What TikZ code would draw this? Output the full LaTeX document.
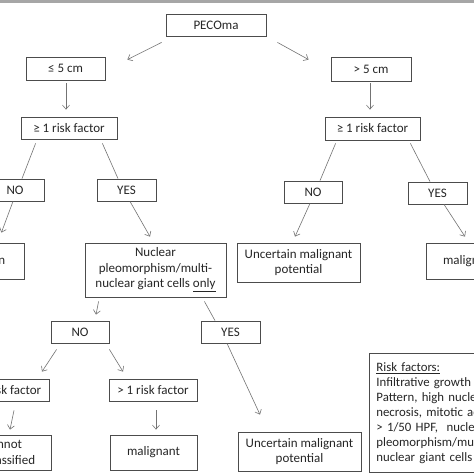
\documentclass[tikz,border=0pt]{standalone}
\usepackage{fontspec}
\setmainfont{Carlito}
\usetikzlibrary{arrows.meta}
\tikzset{box/.style = {draw=black!70, line width=.8pt, fill=white, inner sep=0pt, align=center, text=black!85, font=\fontsize{13}{15.5}\selectfont},
         link/.style = {draw=black!55, line width=.6pt},
         arr/.style = {link, -{Straight Barb[length=4pt, width=7pt]}},
}

\begin{document}
\begin{tikzpicture}[x=1pt, y=-1pt]

  \useasboundingbox (0,0) rectangle (474,474);
  \clip (0,0) rectangle (474,474);
  \fill[white] (0,0) rectangle (474,474);
  \fill[black!35] (0,0) rectangle (474,3);

  % top levels
  \node[box, minimum width=100pt, minimum height=22pt] (pecoma) at (216,25) {PECOma};
  \node[box, minimum width=79pt, minimum height=23pt] (small) at (65.5,68.5) {≤ 5 cm};
  \node[box, minimum width=80pt, minimum height=24pt] (large) at (371,69) {> 5 cm};
  \node[box, minimum width=96pt, minimum height=22pt] (riskl) at (69,128) {≥ 1 risk factor};
  \node[box, minimum width=95pt, minimum height=23pt] (riskr) at (372.5,128.5) {≥ 1 risk factor};

  % second level
  \node[box, minimum width=58pt, minimum height=22pt] (nol) at (15,190) {NO};
  \node[box, minimum width=59pt, minimum height=22pt] (yesl) at (126.5,190) {YES};
  \node[box, minimum width=58pt, minimum height=22pt] (nor) at (313,192) {NO};
  \node[box, minimum width=59pt, minimum height=22pt] (yesr) at (437.5,193) {YES};
  \node[box, minimum width=74pt, minimum height=36pt] (benign) at (-13,261) {Benign};
  \node[box, minimum width=141pt, minimum height=54pt] (nuclear) at (155.5,270) {Nuclear\\pleomorphism/multi-\\nuclear giant cells \underline{only}};
  \node[box, minimum width=123pt, minimum height=39pt] (uncr) at (298.5,262.5) {Uncertain malignant\\potential};
  \node[box, minimum width=87pt, minimum height=36pt] (malr) at (469.5,261) {malignant};

  % third level
  \node[box, minimum width=58pt, minimum height=22pt] (nob) at (80,332) {NO};
  \node[box, minimum width=59pt, minimum height=22pt] (yesb) at (230.5,332) {YES};
  \node[box, minimum width=88pt, minimum height=22pt] (lowrisk) at (5.5,390) {≤ 1 risk factor};
  \node[box, minimum width=88pt, minimum height=22pt] (highrisk) at (153,390) {> 1 risk factor};
  \node[box, minimum width=96pt, minimum height=35pt] (unclass) at (3,452.5) {Cannot\\be classified};
  \node[box, minimum width=87pt, minimum height=35pt] (malb) at (153.5,452.5) {malignant};
  \node[box, minimum width=123pt, minimum height=39pt] (uncb) at (299.5,451.5) {Uncertain malignant\\potential};

  % legend
  \node[box, anchor=north west, align=left, text width=150pt, minimum height=119pt, inner xsep=7pt, font=\fontsize{12.8}{15}\selectfont] (factors) at (369,353)
    {\underline{Risk factors:}\\Infiltrative growth\\Pattern, high nuclear grade,\\necrosis, mitotic activity\\> 1/50 HPF,~ nuclear\\pleomorphism/multi-\\nuclear giant cells};

  % connectors
  \draw[arr] ([xshift=-4pt, yshift=-6pt]pecoma.south west) -- ([xshift=22pt, yshift=-3pt]small.north east);
  \draw[arr] ([xshift=11pt, yshift=-6pt]pecoma.south east) -- ([xshift=-22pt, yshift=-3pt]large.north west);
  \draw[arr] ([xshift=.5pt, yshift=-3pt]small.south) -- ([xshift=-3pt, yshift=7pt]riskl.north);
  \draw[arr] ([xshift=-1pt, yshift=-2pt]large.south) -- ([xshift=-2.5pt, yshift=7pt]riskr.north);

  \draw[link] ([xshift=15pt, yshift=-4pt]riskl.south west) -- ([xshift=7pt]nol.north);
  \draw[link] ([xshift=-15pt, yshift=-4pt]riskl.south east) -- ([xshift=-8.5pt]yesl.north);
  \draw[link] ([xshift=11pt, yshift=-3pt]riskr.south west) -- ([xshift=7pt]nor.north);
  \draw[link] ([xshift=-10pt, yshift=-3pt]riskr.south east) -- ([xshift=-7.5pt]yesr.north);

  \draw[arr] ([xshift=-2pt]nol.south) -- ([xshift=-23pt, yshift=10pt]benign.north east);
  \draw[arr] ([xshift=3.5pt]yesl.south) -- ([xshift=-5.5pt, yshift=6pt]nuclear.north);
  \draw[arr] ([xshift=-3pt]nor.south) -- ([xshift=-3.5pt, yshift=6pt]uncr.north);
  \draw[arr] ([xshift=6.5pt]yesr.south) -- ([xshift=-4.5pt, yshift=6pt]malr.north);

  \draw[arr] ([xshift=14pt, yshift=-4pt]nuclear.south west) -- ([xshift=16pt, yshift=6pt]nob.north);
  \draw[link] ([xshift=-22pt, yshift=-4pt]nuclear.south east) -- ([xshift=-15.5pt]yesb.north);
  \draw[arr] ([xshift=-3.5pt]yesb.south) -- ([xshift=-39.5pt, yshift=17pt]uncb.north);

  \draw[arr] ([xshift=6pt, yshift=-6pt]nob.south west) -- ([xshift=36.5pt, yshift=7pt]lowrisk.north);
  \draw[arr] ([yshift=-6pt]nob.south east) -- ([xshift=-30pt, yshift=7pt]highrisk.north);
  \draw[arr] ([xshift=8.5pt, yshift=-9pt]lowrisk.south) -- ([xshift=7pt, yshift=5pt]unclass.north);
  \draw[arr] ([xshift=3pt, yshift=-9pt]highrisk.south) -- ([xshift=2.5pt, yshift=5pt]malb.north);

\end{tikzpicture}
\end{document}
